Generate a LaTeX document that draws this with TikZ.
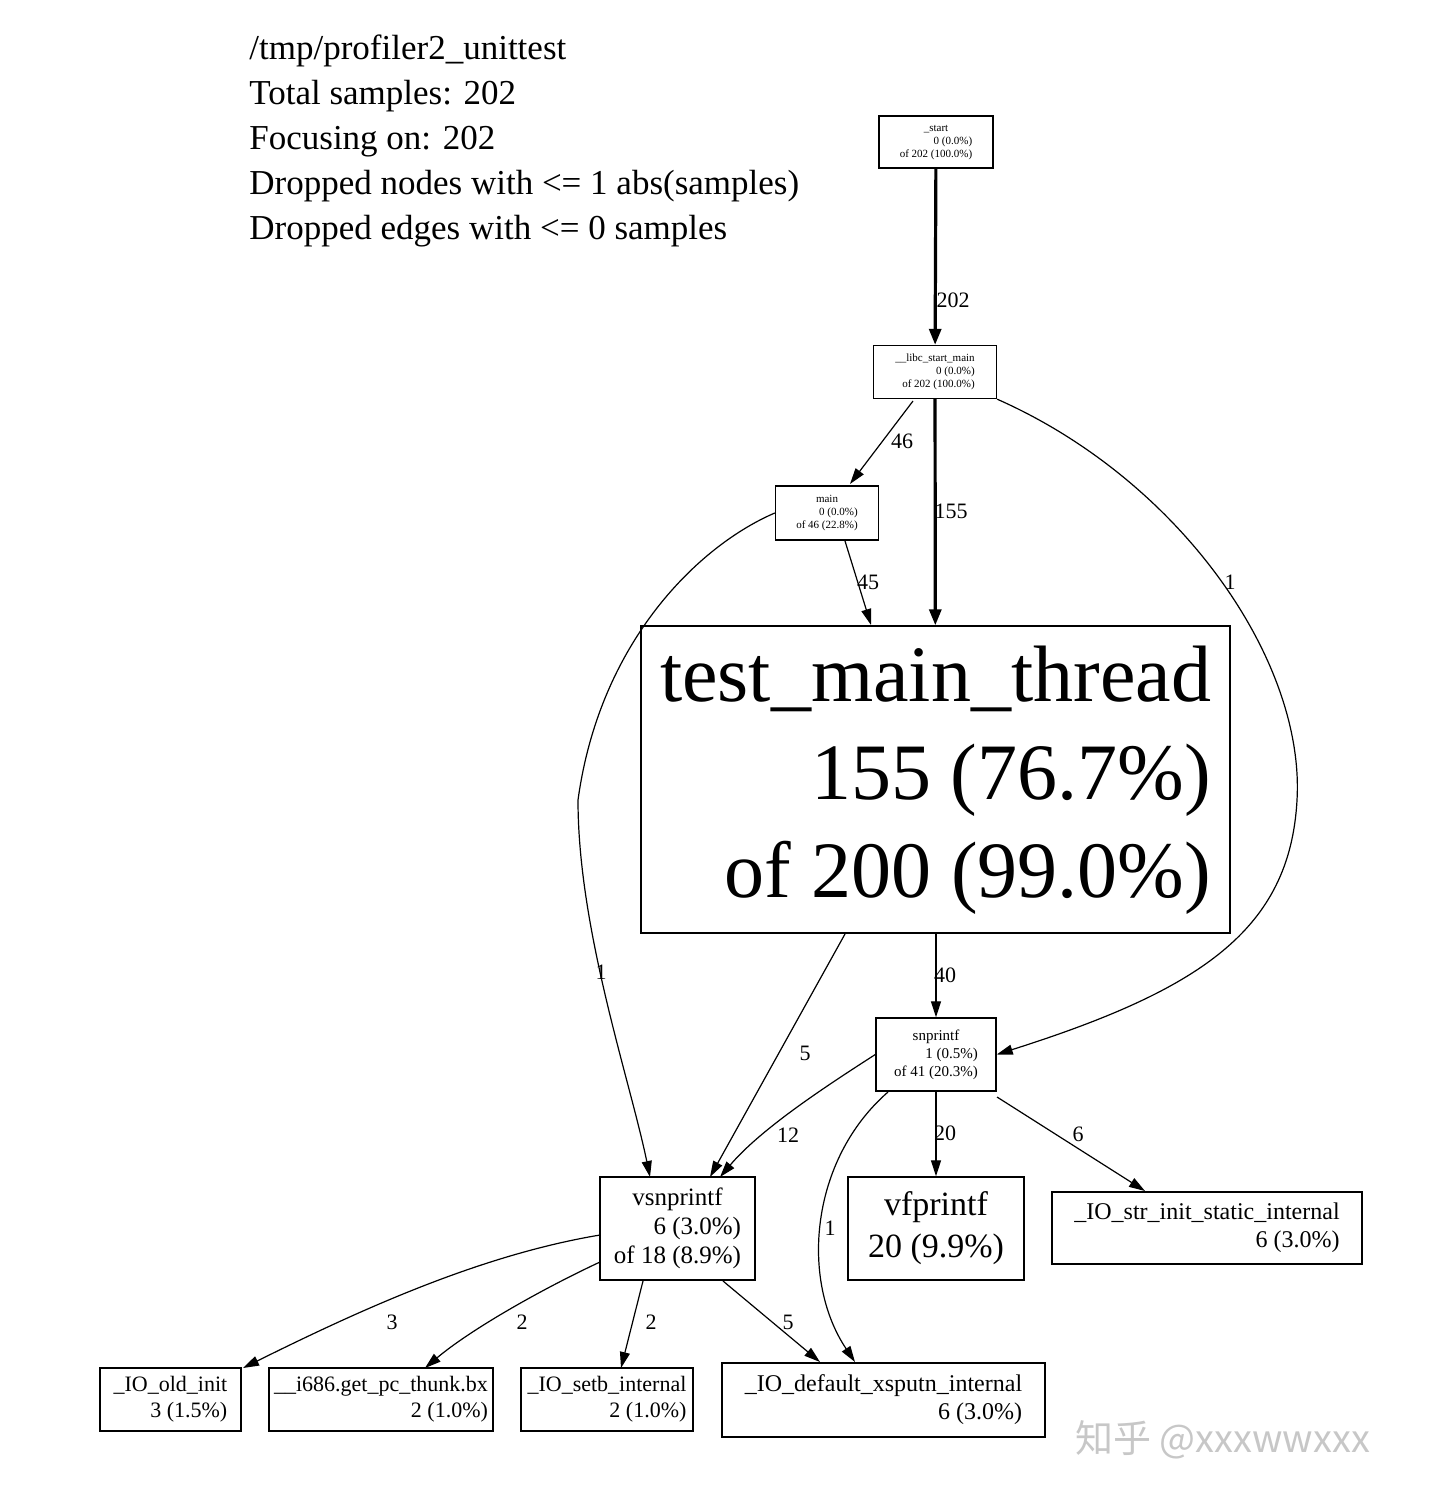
\documentclass[tikz,border=0pt]{standalone}
\usepackage{fontspec}
\setmainfont{Liberation Serif}
\newfontfamily\cjk{Noto Sans CJK SC}
\usetikzlibrary{arrows.meta}
\begin{document}
\begin{tikzpicture}[x=0.5pt,y=-0.5pt,
 box/.style={draw,line width=0.7pt,inner sep=0pt},
 e/.style={line width=0.6pt,-{Triangle[length=8pt,width=5pt]}},
 eb/.style={line width=1.6pt,-{Triangle[length=8pt,width=6pt]}},
 lab/.style={font=\fontsize{11}{11}\selectfont,inner sep=1pt}]
\useasboundingbox (0,0) rectangle (1440,1498);
\newcommand{\tb}[3]{\begin{tabular}{@{}r@{}}\multicolumn{1}{@{}c@{}}{#1}\\#2\\#3\end{tabular}}
\newcommand{\tbb}[2]{\begin{tabular}{@{}r@{}}\multicolumn{1}{@{}c@{}}{#1}\\#2\end{tabular}}
\node[anchor=north west,align=left,font=\fontsize{17.5}{22.5}\selectfont,inner sep=0pt] (hdr) at (249,34)
 {/tmp/profiler2\_unittest\\Total samples: 202\\Focusing on: 202\\Dropped nodes with <= 1 abs(samples)\\Dropped edges with <= 0 samples};
\node[box,minimum width=57pt,minimum height=26pt,font=\fontsize{5.5}{6.5}\selectfont] (start) at (936,142) {\tb{\_start}{0 (0.0\%)}{of 202 (100.0\%)}};
\node[box,minimum width=61.5pt,minimum height=26.5pt,font=\fontsize{5.5}{6.5}\selectfont] (libc) at (935,372) {\tb{\_\_libc\_start\_main}{0 (0.0\%)}{of 202 (100.0\%)}};
\node[box,minimum width=51.5pt,minimum height=27pt,font=\fontsize{5.5}{6.5}\selectfont] (main) at (827,513) {\tb{main}{0 (0.0\%)}{of 46 (22.8\%)}};
\node[box,minimum width=294.5pt,minimum height=153.5pt,font=\fontsize{40}{49}\selectfont] (tmt) at (935.5,779.5) {\tb{test\_main\_thread}{155 (76.7\%)}{of 200 (99.0\%)}};
\node[box,minimum width=60pt,minimum height=36.5pt,font=\fontsize{7.5}{9}\selectfont] (snp) at (936,1054.5) {\tb{snprintf}{1 (0.5\%)}{of 41 (20.3\%)}};
\node[box,minimum width=77.5pt,minimum height=51.5pt,font=\fontsize{12.5}{14.5}\selectfont] (vsn) at (677.5,1228.5) {\tb{vsnprintf}{6 (3.0\%)}{of 18 (8.9\%)}};
\node[box,minimum width=88pt,minimum height=51.5pt,font=\fontsize{17}{21}\selectfont] (vfp) at (936,1228.5) {\tbb{vfprintf}{20 (9.9\%)}};
\node[box,minimum width=155pt,minimum height=36pt,font=\fontsize{12}{14}\selectfont] (str) at (1207,1228) {\tbb{\_IO\_str\_init\_static\_internal}{6 (3.0\%)}};
\node[box,minimum width=70.5pt,minimum height=31.5pt,font=\fontsize{11}{13}\selectfont] (old) at (170.5,1399.5) {\tbb{\_IO\_old\_init}{3 (1.5\%)}};
\node[box,minimum width=112pt,minimum height=31.5pt,font=\fontsize{11}{13}\selectfont] (i686) at (381,1399.5) {\tbb{\_\_i686.get\_pc\_thunk.bx}{2 (1.0\%)}};
\node[box,minimum width=86pt,minimum height=31.5pt,font=\fontsize{11}{13}\selectfont] (setb) at (607,1399.5) {\tbb{\_IO\_setb\_internal}{2 (1.0\%)}};
\node[box,minimum width=161.5pt,minimum height=37pt,font=\fontsize{12}{14}\selectfont] (dx) at (883.5,1400) {\tbb{\_IO\_default\_xsputn\_internal}{6 (3.0\%)}};
\node[text=black!22,font=\cjk\fontsize{19}{19}\selectfont,anchor=west] (wm) at (1068,1440) {知乎 @xxxwwxxx};
% edges
\draw[eb] (start) -- (libc);
\node[lab] (l1) at (953,300) {202};
\draw[e] (913,401) -- (850,484);
\node[lab] (l2) at (902,441) {46};
\draw[eb] (libc) -- (tmt);
\node[lab] (l3) at (951,511) {155};
\draw[e] (libc.south east) .. controls (1180,480) and (1305,660) .. (1297,800) .. controls (1290,930) and (1200,990) .. (snp.east);
\node[lab] (l4) at (1230,582) {1};
\draw[e] (main.west) .. controls (700,545) and (600,640) .. (578,800) .. controls (578,930) and (630,1080) .. (650,1177);
\node[lab] (l5) at (601,972) {1};
\draw[e] (845,541) -- (871,625);
\node[lab] (l6) at (868,582) {45};
\draw[e] (tmt.south -| snp) -- (snp);
\node[lab] (l7) at (945,975) {40};
\draw[e] (845,934) -- (710,1177);
\node[lab] (l8) at (805,1053) {5};
\draw[e] (snp.west) .. controls (820,1090) and (760,1130) .. (720,1177);
\node[lab] (l9) at (788,1135) {12};
\draw[e] (888,1092) .. controls (810,1160) and (800,1280) .. (855,1362);
\node[lab] (l10) at (830,1228) {1};
\draw[e] (snp) -- (vfp);
\node[lab] (l11) at (945,1133) {20};
\draw[e] (997,1097) -- (1145,1191);
\node[lab] (l12) at (1078,1134) {6};
\draw[e] (600,1235) .. controls (480,1255) and (360,1310) .. (243,1368);
\node[lab] (l13) at (392,1322) {3};
\draw[e] (600,1262) .. controls (540,1290) and (470,1330) .. (425,1368);
\node[lab] (l14) at (522,1322) {2};
\draw[e] (643,1281) -- (621,1368);
\node[lab] (l15) at (651,1322) {2};
\draw[e] (723,1281) -- (820,1362);
\node[lab] (l16) at (788,1322) {5};
\end{tikzpicture}
\end{document}
